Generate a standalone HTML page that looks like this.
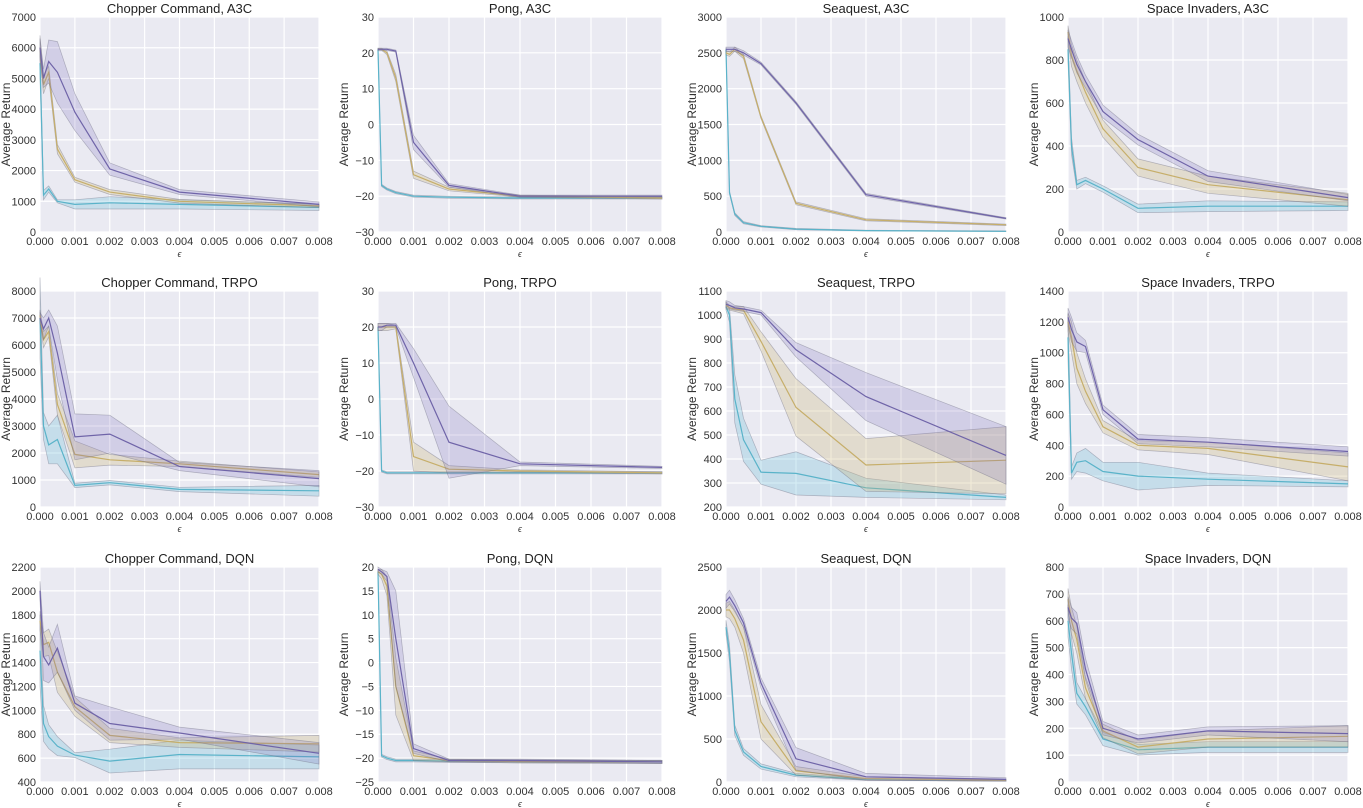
<!DOCTYPE html>
<html><head><meta charset="utf-8"><style>
html,body{margin:0;padding:0;background:#fff;}
svg{display:block;font-family:"Liberation Sans",sans-serif;}
</style></head><body>
<svg id="chart" width="1363" height="808" viewBox="0 0 1363 808" xmlns="http://www.w3.org/2000/svg"></svg>
<script>
const xValues=[0,0.0001,0.00025,0.0005,0.001,0.002,0.004,0.008];
const xTicks=[0,0.001,0.002,0.003,0.004,0.005,0.006,0.007,0.008];
const titles=["Chopper Command, A3C","Pong, A3C","Seaquest, A3C","Space Invaders, A3C","Chopper Command, TRPO","Pong, TRPO","Seaquest, TRPO","Space Invaders, TRPO","Chopper Command, DQN","Pong, DQN","Seaquest, DQN","Space Invaders, DQN"];
const yTicks=[[0,1000,2000,3000,4000,5000,6000,7000],[-30,-20,-10,0,10,20,30],[0,500,1000,1500,2000,2500,3000],[0,200,400,600,800,1000],
[0,1000,2000,3000,4000,5000,6000,7000,8000],[-30,-20,-10,0,10,20,30],[200,300,400,500,600,700,800,900,1000,1100],[0,200,400,600,800,1000,1200,1400],
[400,600,800,1000,1200,1400,1600,1800,2000,2200],[-25,-20,-15,-10,-5,0,5,10,15,20],[0,500,1000,1500,2000,2500],[0,100,200,300,400,500,600,700,800]];
const purpleMean=[[6000,5000,5550,5200,3900,2050,1300,900],[21,21,21,20.5,-5,-17,-20,-20],[2550,2550,2550,2500,2350,1800,520,190],[900,850,780,700,560,430,260,160],
[7000,6600,7000,5700,2600,2700,1500,1050],[20,20,20.5,20.5,10,-12,-18,-19],[1045,1040,1030,1025,1010,855,660,415],[1230,1150,1070,1040,630,440,420,360],
[2000,1450,1380,1520,1060,890,810,640],[19.5,19,18,5,-18,-20.5,-20.5,-20.8],[2100,2150,2050,1850,1150,270,60,30],[650,610,590,420,200,160,190,180]];
const purpleBand=[[300,300,700,1000,600,200,80,80],[0.3,0.3,0.3,0.3,2,0.5,0.3,0.3],[30,30,30,30,20,20,20,10],[40,40,40,30,30,25,25,15],
[200,400,300,1000,850,700,150,300],[1,1,0.5,0.5,4,10,0.5,0.3],[15,15,10,10,10,30,100,120],[60,80,60,40,30,30,30,30],
[80,200,150,200,60,140,50,90],[0.5,0.5,1,10,1,0.3,0.3,0.3],[80,80,70,50,60,130,40,20],[40,40,40,40,25,15,15,30]];
const tanMean=[[6000,4800,5200,2700,1700,1300,1000,850],[21,21,20,13,-14,-18,-20,-20.5],[2500,2480,2550,2450,1600,400,170,100],[930,820,750,650,480,300,220,150],
[7100,6200,6500,3800,1950,1750,1600,1200],[20,20,20,20,-16,-19.5,-20,-20.5],[1040,1030,1025,1020,890,615,375,395],[1200,1100,900,750,520,400,380,260],
[1750,1550,1570,1320,1030,790,730,720],[19,18.5,16,-5,-19.5,-20.5,-20.7,-20.8],[2000,2000,1900,1650,700,130,40,20],[680,600,530,350,190,130,160,170]];
const tanBand=[[400,300,200,150,80,80,60,60],[0.3,0.3,0.5,1,1,0.5,0.3,0.3],[30,30,30,30,20,20,15,10],[30,50,50,50,40,40,40,30],
[200,300,200,400,500,200,100,100],[1,1,1,0.5,4,1,0.3,0.3],[15,10,10,15,40,120,110,140],[60,100,100,80,40,30,40,90],
[80,100,110,170,80,60,40,70],[0.5,1,2,6,1,0.3,0.3,0.3],[80,100,100,150,200,50,20,10],[40,50,50,40,25,25,30,40]];
const cyanMean=[[5500,1200,1400,1000,900,950,900,800],[21,-17,-18,-19,-20,-20.3,-20.5,-20.5],[2550,550,250,130,80,40,20,10],[850,400,220,240,200,110,120,120],
[7000,3000,2300,2500,800,900,650,600],[20,-20,-20.5,-20.5,-20.5,-20.5,-20.5,-20.5],[1035,1000,650,480,345,340,280,240],[1100,220,290,300,230,200,180,150],
[1500,890,780,700,625,575,630,610],[19,-19.5,-20,-20.5,-20.5,-20.6,-20.7,-20.8],[1800,1500,600,350,180,80,30,20],[600,480,330,280,160,120,130,130]];
const cyanBand=[[500,150,100,50,150,200,150,100],[0.3,0.3,0.3,0.3,0.3,0.3,0.3,0.3],[20,20,20,15,10,10,5,5],[60,40,20,15,15,20,25,20],
[1500,500,700,900,80,80,80,200],[0.3,0.3,0.3,0.3,0.3,0.3,0.3,0.3],[15,30,100,90,50,90,40,10],[150,40,60,80,60,90,40,20],
[300,150,100,80,20,100,120,100],[0.3,0.3,0.3,0.3,0.3,0.3,0.3,0.3],[80,100,60,40,30,20,10,10],[60,60,40,30,25,20,20,20]];

const NS="http://www.w3.org/2000/svg";
const svg=document.getElementById('chart');
const colL=[40,378,726,1068], colR=[319,662,1006,1348];
const rowT=[17,291,567], rowB=[232,507,782];
function mk(tag,attrs,parent){const e=document.createElementNS(NS,tag);for(const k in attrs)e.setAttribute(k,attrs[k]);(parent||svg).appendChild(e);return e;}
const series=[
 {name:'cyan',mean:cyanMean,band:cyanBand,line:'#5ab3c9',fill:'rgba(100,185,215,0.28)'},
 {name:'tan',mean:tanMean,band:tanBand,line:'#c6ae6a',fill:'rgba(200,180,115,0.28)'},
 {name:'purple',mean:purpleMean,band:purpleBand,line:'#6f64a8',fill:'rgba(125,110,185,0.22)'}
];
for(let p=0;p<12;p++){
  const c=p%4,r=Math.floor(p/4);
  const L=colL[c],R=colR[c],T=rowT[r],B=rowB[r];
  const yt=yTicks[p],ymin=yt[0],ymax=yt[yt.length-1];
  const sx=v=>L+(v-xTicks[0])/(xTicks[xTicks.length-1]-xTicks[0])*(R-L);
  const sy=v=>B-(v-ymin)/(ymax-ymin)*(B-T);
  const g=mk('g',{});
  
  
  const bg=mk('rect',{x:L,y:T,width:R-L,height:B-T,fill:'#eaeaf2'},g);
  
  
  xTicks.forEach(t=>{
    const l=mk('line',{x1:sx(t),x2:sx(t),y1:T,y2:B,stroke:'#fff','stroke-width':1.2},g);
    
    
    const tx=mk('text',{x:sx(t),y:B+13,'font-size':11,fill:'#333','text-anchor':'middle'},g);
    tx.textContent=t.toFixed(3);
    
    
  });
  yt.forEach(t=>{
    const l=mk('line',{x1:L,x2:R,y1:sy(t),y2:sy(t),stroke:'#fff','stroke-width':1.2},g);
    
    
    const tx=mk('text',{x:L-4,y:sy(t)+4,'font-size':11,fill:'#333','text-anchor':'end'},g);
    tx.textContent=String(t).replace('-','\u2212');
    
    
  });
  series.forEach(s=>{
    const m=s.mean[p],b=s.band[p];
    const up=xValues.map((x,i)=>sx(x).toFixed(1)+','+sy(m[i]+b[i]).toFixed(1));
    const lo=xValues.map((x,i)=>sx(x).toFixed(1)+','+sy(m[i]-b[i]).toFixed(1)).reverse();
    const band=mk('polygon',{points:up.concat(lo).join(' '),fill:s.fill,stroke:'rgba(110,110,130,0.45)','stroke-width':0.7},g);
    
    
    const ln=mk('polyline',{points:xValues.map((x,i)=>sx(x).toFixed(1)+','+sy(m[i]).toFixed(1)).join(' '),fill:'none',stroke:s.line,'stroke-width':1.2},g);
    
    
  });
  const ti=mk('text',{x:(L+R)/2,y:T-4,'font-size':13,fill:'#222','text-anchor':'middle'},g);
  ti.textContent=titles[p];
  
  
  const yl=mk('text',{x:0,y:0,'font-size':12,fill:'#333','text-anchor':'middle',transform:'translate('+(L-30)+','+((T+B)/2)+') rotate(-90)'},g);
  yl.textContent='Average Return';
  
  
  const xl=mk('text',{x:(L+R)/2,y:B+25,'font-size':9,fill:'#333','text-anchor':'middle','font-style':'italic'},g);
  xl.textContent='\u03f5';
  
  
}
</script>
</body></html>
